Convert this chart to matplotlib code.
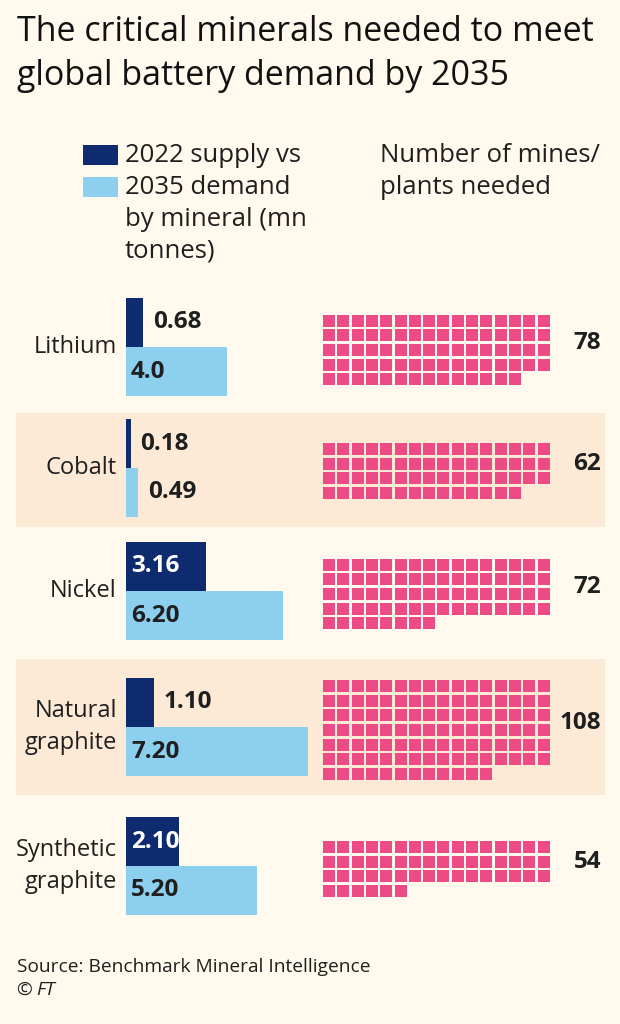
import matplotlib.pyplot as plt
from matplotlib.patches import Rectangle

minerals = ['Lithium', 'Cobalt', 'Nickel', 'Natural\ngraphite', 'Synthetic\ngraphite']
supply_2022 = [0.68, 0.18, 3.16, 1.10, 2.10]
demand_2035 = [4.0, 0.49, 6.20, 7.20, 5.20]
supply_labels = ['0.68', '0.18', '3.16', '1.10', '2.10']
demand_labels = ['4.0', '0.49', '6.20', '7.20', '5.20']
mines_needed = [78, 62, 72, 108, 54]

# layout, in pixels of the 620x1024 canvas
W, H = 620, 1024
row_mid = [347, 468, 591, 727, 866]
bands = [(413, 527), (659, 795)]
bar_h = 49
bar_left = 126
px_per_unit = 25.25
waffle_x0 = 323
cell_pitch_x = 14.3
cell_pitch_y = 14.6
cell = 12
waffle_cols = 16

bg = '#FFF9EE'
band_col = '#FCE9D6'
navy = '#0D2B6E'
light = '#8DCFEF'
pink = '#EC4B85'
ink = '#1F1F1F'

plt.rcParams['font.family'] = ['Open Sans', 'DejaVu Sans']

fig = plt.figure(figsize=(6.2, 10.24), dpi=100)
fig.patch.set_facecolor(bg)

ax = fig.add_axes([0, 0, 1, 1])
ax.set_xlim(0, W)
ax.set_ylim(H, 0)
ax.axis('off')

# shaded bands behind alternate rows
for top, bottom in bands:
    ax.add_patch(Rectangle((16, top), 589, bottom - top, color=band_col, lw=0, zorder=0))

# title
ax.text(17, 32, 'The critical minerals needed to meet', fontsize=24.5, color='#111111', va='center')
ax.text(17, 76, 'global battery demand by 2035', fontsize=24.5, color='#111111', va='center')

# legend
ax.add_patch(Rectangle((83, 145), 35, 20, color=navy, lw=0))
ax.add_patch(Rectangle((83, 177), 35, 20, color=light, lw=0))
for i, line in enumerate(['2022 supply vs', '2035 demand', 'by mineral (mn', 'tonnes)']):
    ax.text(125, 155 + 32 * i, line, fontsize=18.5, color=ink, va='center')
for i, line in enumerate(['Number of mines/', 'plants needed']):
    ax.text(380, 155 + 32 * i, line, fontsize=18.5, color=ink, va='center')

# bars on their own axes so the value scale is the library's
bx = fig.add_axes([bar_left / W, 0, 300 / W, 1])
bx.set_xlim(0, 300 / px_per_unit)
bx.set_ylim(H, 0)
bx.axis('off')
bx.patch.set_alpha(0)

bx.barh([m - bar_h / 2 for m in row_mid], supply_2022, height=bar_h, color=navy, lw=0)
bx.barh([m + bar_h / 2 for m in row_mid], demand_2035, height=bar_h, color=light, lw=0)

pad_in = 5 / px_per_unit
pad_out = 10 / px_per_unit
for i in range(len(minerals)):
    for val, lab, y, inside_col in [(supply_2022[i], supply_labels[i], row_mid[i] - bar_h / 2, 'white'),
                                    (demand_2035[i], demand_labels[i], row_mid[i] + bar_h / 2, ink)]:
        if val * px_per_unit > 45:
            bx.text(pad_in, y, lab, fontsize=17.5, fontweight='bold', color=inside_col, va='center')
        else:
            bx.text(val + pad_out, y, lab, fontsize=17.5, fontweight='bold', color=ink, va='center')

    ax.text(117, row_mid[i], minerals[i], fontsize=17, color=ink, ha='right', va='center',
            linespacing=1.42)

    # waffle of mines/plants
    n = mines_needed[i]
    nrows = -(-n // waffle_cols)
    top = row_mid[i] + 3 - (nrows * cell_pitch_y - (cell_pitch_y - cell)) / 2
    for k in range(n):
        r, c = divmod(k, waffle_cols)
        ax.add_patch(Rectangle((waffle_x0 + c * cell_pitch_x, top + r * cell_pitch_y), cell, cell,
                               color=pink, lw=0))
    ax.text(601, row_mid[i] - 4, str(n), fontsize=17.5, fontweight='bold', color=ink,
            ha='right', va='center')

# footer
ax.text(17, 967, 'Source: Benchmark Mineral Intelligence', fontsize=13.8, color=ink, va='center')
ax.text(17, 990, '\u00a9 ', fontsize=13.8, color=ink, va='center')
ax.text(36, 990, 'FT', fontsize=13.8, color=ink, va='center', style='italic')

fig.savefig('out.png', dpi=100, facecolor=bg)
